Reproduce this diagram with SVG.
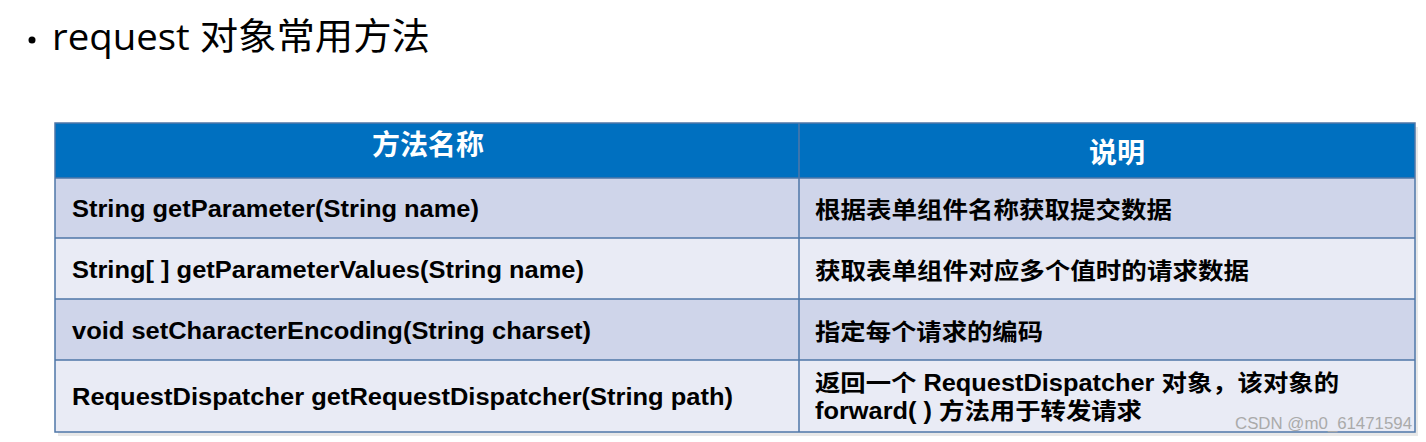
<svg xmlns="http://www.w3.org/2000/svg" width="1426" height="442" viewBox="0 0 1426 442">
<style>
.t{font-family:"Liberation Sans","Noto Sans CJK SC",sans-serif;font-weight:bold;font-size:23px;fill:#000}
.h{font-family:"Noto Sans CJK SC",sans-serif;font-weight:bold;font-size:28px;fill:#fff}
.ln{stroke:#4f77a8;stroke-width:1.5;fill:none}
</style>
<rect width="1426" height="442" fill="#fff"/>
<rect x="58" y="127" width="1360" height="309" fill="#e8e8e8"/>
<circle cx="32" cy="40" r="3.5" fill="#000"/>
<text x="52" y="50" font-family="'Open Sans','Noto Sans CJK SC',sans-serif" font-size="37" textLength="378" lengthAdjust="spacingAndGlyphs" fill="#000">request 对象常用方法</text>
<g id="table">
<rect x="55" y="123" width="1360" height="55" fill="#0070c0"/>
<rect x="55" y="178" width="1360" height="60" fill="#cfd5ea"/>
<rect x="55" y="238" width="1360" height="61" fill="#e9ebf5"/>
<rect x="55" y="299" width="1360" height="61" fill="#cfd5ea"/>
<rect x="55" y="360" width="1360" height="72" fill="#e9ebf5"/>
<rect class="ln" x="55" y="123" width="1360" height="309"/>
<path class="ln" d="M55 178H1415M55 238H1415M55 299H1415M55 360H1415M799 123V432"/>
<text class="h" x="428" y="155" text-anchor="middle">方法名称</text>
<text class="h" x="1117" y="163" text-anchor="middle">说明</text>
<text class="t" x="72" y="217" textLength="407" lengthAdjust="spacingAndGlyphs">String getParameter(String name)</text>
<text class="t" x="72" y="278" textLength="512" lengthAdjust="spacingAndGlyphs">String[ ] getParameterValues(String name)</text>
<text class="t" x="72" y="339" textLength="519" lengthAdjust="spacingAndGlyphs">void setCharacterEncoding(String charset)</text>
<text class="t" x="72" y="405" textLength="661" lengthAdjust="spacingAndGlyphs">RequestDispatcher getRequestDispatcher(String path)</text>
<text class="t" x="815" y="218" textLength="357" lengthAdjust="spacingAndGlyphs">根据表单组件名称获取提交数据</text>
<text class="t" x="815" y="279" textLength="434" lengthAdjust="spacingAndGlyphs">获取表单组件对应多个值时的请求数据</text>
<text class="t" x="815" y="340" textLength="228" lengthAdjust="spacingAndGlyphs">指定每个请求的编码</text>
<text class="t" x="815" y="391" textLength="524" lengthAdjust="spacingAndGlyphs">返回一个 RequestDispatcher 对象，该对象的</text>
<text class="t" x="815" y="419" textLength="327" lengthAdjust="spacingAndGlyphs">forward( ) 方法用于转发请求</text>
</g>
<text x="1412" y="429" text-anchor="end" font-family="'Liberation Sans',sans-serif" font-size="16" textLength="177" lengthAdjust="spacingAndGlyphs" fill="#aaa">CSDN @m0_61471594</text>
</svg>
